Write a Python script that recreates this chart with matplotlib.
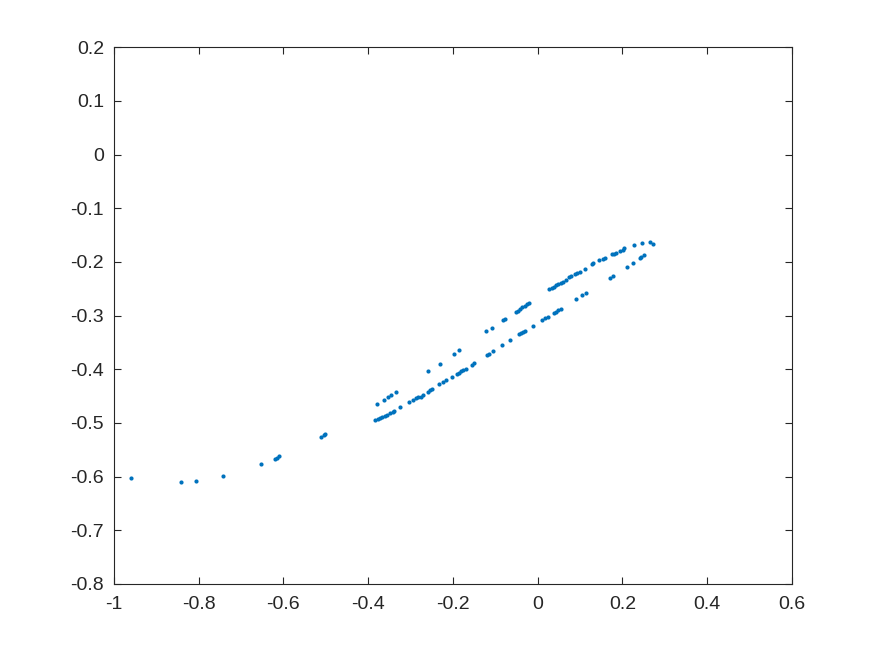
import matplotlib
matplotlib.use("Agg")
import matplotlib.pyplot as plt
import numpy as np

# points (x, y)
x_tail = [-0.959, -0.841, -0.805, -0.743, -0.653, -0.620, -0.615, -0.610,
          -0.510, -0.505, -0.501]
y_tail = [-0.6035, -0.610, -0.608, -0.5985, -0.577, -0.567, -0.565, -0.562,
          -0.526, -0.523, -0.521]

x_low = [-0.383, -0.377, -0.371, -0.366, -0.360, -0.355, -0.348, -0.342, -0.338,
         -0.324, -0.304, -0.293, -0.287, -0.282, -0.276, -0.270, -0.259, -0.253,
         -0.248, -0.233, -0.222, -0.215, -0.201, -0.191, -0.186, -0.181, -0.175,
         -0.170, -0.155, -0.149, -0.120, -0.114, -0.106, -0.085, -0.066,
         -0.043, -0.039, -0.035, -0.029, -0.011, 0.010, 0.018, 0.024, 0.038,
         0.043, 0.049, 0.055, 0.090, 0.105, 0.114, 0.172, 0.179, 0.210, 0.225,
         0.241, 0.245, 0.251]
y_low = [-0.494, -0.493, -0.491, -0.489, -0.487, -0.485, -0.482, -0.479, -0.477,
         -0.471, -0.462, -0.457, -0.454, -0.452, -0.451, -0.449, -0.443, -0.439,
         -0.436, -0.427, -0.424, -0.421, -0.415, -0.409, -0.407, -0.404, -0.401,
         -0.399, -0.392, -0.388, -0.373, -0.372, -0.367, -0.355, -0.345,
         -0.335, -0.332, -0.330, -0.328, -0.319, -0.309, -0.304, -0.302, -0.295,
         -0.293, -0.289, -0.287, -0.269, -0.261, -0.258, -0.230, -0.226, -0.210,
         -0.202, -0.193, -0.190, -0.187]

x_up = [-0.379, -0.363, -0.352, -0.345, -0.334, -0.259, -0.231, -0.198, -0.185,
        -0.121, -0.107, -0.082, -0.077, -0.052, -0.047, -0.041, -0.036, -0.030,
        -0.026, -0.020, 0.028, 0.033, 0.038, 0.044, 0.049, 0.055, 0.059, 0.068,
        0.074, 0.078, 0.088, 0.094, 0.099, 0.111, 0.129, 0.131, 0.146, 0.155,
        0.159, 0.175, 0.180, 0.186, 0.195, 0.201, 0.205, 0.227, 0.246, 0.265,
        0.272]
y_up = [-0.464, -0.457, -0.452, -0.449, -0.443, -0.404, -0.390, -0.372, -0.365,
        -0.329, -0.323, -0.308, -0.306, -0.293, -0.291, -0.288, -0.285, -0.282,
        -0.279, -0.276, -0.251, -0.248, -0.246, -0.243, -0.241, -0.239, -0.237,
        -0.233, -0.229, -0.227, -0.222, -0.220, -0.218, -0.213, -0.204, -0.202,
        -0.197, -0.194, -0.192, -0.186, -0.185, -0.183, -0.179, -0.177, -0.175,
        -0.168, -0.165, -0.163, -0.166]

xs = np.array(x_tail + x_low + x_up)
ys = np.array(y_tail + y_low + y_up)

plt.rcParams['font.family'] = ['Liberation Sans', 'DejaVu Sans']
fig = plt.figure(figsize=(8.75, 6.56), dpi=100)
ax = fig.add_axes([0.13, 0.11, 0.775, 0.818])
ax.plot(xs, ys, 'o', color='#0072BD', ms=3.0, mew=0)
ax.set_xlim(-1, 0.6)
ax.set_ylim(-0.8, 0.2)
ax.set_xticks(np.arange(-1, 0.61, 0.2))
ax.set_yticks(np.arange(-0.8, 0.21, 0.1))
ax.set_xticklabels(['-1', '-0.8', '-0.6', '-0.4', '-0.2', '0', '0.2', '0.4', '0.6'])
ax.set_yticklabels(['-0.8', '-0.7', '-0.6', '-0.5', '-0.4', '-0.3', '-0.2', '-0.1',
                    '0', '0.1', '0.2'])
for s in ax.spines.values():
    s.set_color('#262626')
    s.set_linewidth(0.8)
ax.tick_params(direction='in', length=5, width=0.8, colors='#262626',
               labelsize=14, top=True, right=True, labeltop=False, labelright=False)
ax.tick_params(axis='x', pad=9)
ax.tick_params(axis='y', pad=7)
fig.savefig('out.png', dpi=100)
